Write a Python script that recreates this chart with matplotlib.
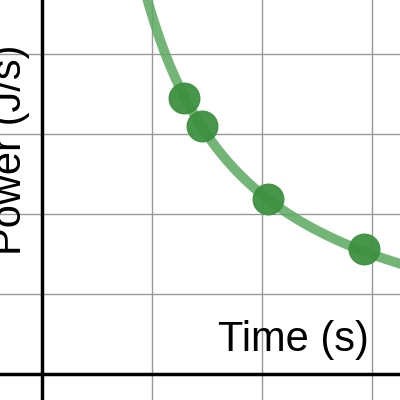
import numpy as np
import matplotlib.pyplot as plt

plt.rcParams['font.family'] = ['Liberation Sans', 'DejaVu Sans']

# measured points (time s, power J/s)
times = [1.29, 1.45, 2.05, 2.92]
powers = [3.45, 3.10, 2.19, 1.56]

# fit P = k / t to the points
t = np.array(times)
p = np.array(powers)
k = np.sum(p / t) / np.sum(1 / t**2)

fig = plt.figure(figsize=(4, 4), dpi=100)
ax = fig.add_axes([0, 0, 1, 1])
ax.set_xlim(-0.38, 3.25)
ax.set_ylim(-0.325, 4.675)

for gx in [1, 2, 3]:
    ax.axvline(gx, color="#999999", lw=1, zorder=0)
for gy in [1, 2, 3, 4]:
    ax.axhline(gy, color="#999999", lw=1, zorder=0)
ax.axvline(0, color="black", lw=2.5, zorder=1)
ax.axhline(0, color="black", lw=2.5, zorder=1)

tc = np.linspace(0.9, 3.3, 300)
ax.plot(tc, k / tc, color="#5aa85e", lw=7, alpha=0.85, zorder=2)
ax.plot(times, powers, "o", ms=22, color="#3d9140", alpha=0.95, zorder=3)

ax.text(2.97, 0.42, "Time (s)", fontsize=30, ha="right", va="center")
ax.text(-0.29, 2.8, "Power (J/s)", fontsize=30, rotation=90, ha="center", va="center")

ax.axis("off")
fig.savefig("out.png", dpi=100)
